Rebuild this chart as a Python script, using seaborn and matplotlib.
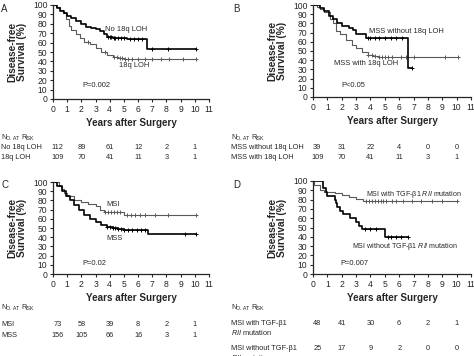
import numpy as np
import pandas as pd
import seaborn as sns
import matplotlib.pyplot as plt

sns.set_style("ticks")
plt.rcParams['font.family'] = ['Liberation Sans', 'DejaVu Sans']
plt.rcParams['mathtext.fontset'] = 'custom'
plt.rcParams['mathtext.it'] = 'Liberation Sans:italic'
plt.rcParams['mathtext.rm'] = 'Liberation Sans'

# ---- panel A: 18q LOH ----
a1_t = [0, 0.3, 0.5, 0.8, 1.0, 1.3, 1.6, 2.0, 2.3, 2.7, 3.0, 3.3, 3.6, 3.8, 4.2, 5.2, 6.6, 10.1]
a1_s = [100, 97, 94, 91, 88, 86, 83, 80, 77, 76, 74, 72, 69, 66, 65, 64, 53, 53]
a1_c = [3.9, 4.0, 4.1, 4.3, 4.4, 4.6, 4.8, 5.0, 5.4, 5.7, 6.0, 6.3, 7.0, 8.1, 10.1]
a2_t = [0, 0.2, 0.5, 0.7, 0.9, 1.1, 1.3, 1.6, 1.9, 2.2, 2.6, 3.0, 3.4, 3.8, 4.2, 4.6, 5.0, 10.1]
a2_s = [100, 98, 95, 91, 85, 78, 73, 69, 65, 61, 58, 54, 50, 47, 45, 44, 43, 43]
a2_c = [2.5, 3.7, 4.3, 4.5, 4.7, 4.9, 5.1, 5.3, 5.6, 6.0, 6.5, 7.0, 7.6, 8.2, 9.2, 10.1]

# ---- panel B: MSS with / without 18q LOH ----
b1_t = [0, 0.5, 0.8, 1.1, 1.4, 1.7, 2.0, 2.5, 2.8, 3.0, 3.7, 6.6, 6.9]
b1_s = [100, 97, 93, 88, 85, 80, 77, 75, 73, 69, 64, 32, 32]
b1_c = [3.8, 4.0, 4.3, 4.6, 5.0, 5.4, 5.8, 6.2, 6.9]
b2_t = [0, 0.3, 0.5, 0.8, 1.2, 1.4, 1.6, 1.9, 2.3, 2.7, 3.0, 3.4, 3.8, 4.2, 4.6, 10.1]
b2_s = [100, 98, 96, 92, 85, 80, 72, 68, 62, 57, 53, 49, 46, 45, 44, 44]
b2_c = [3.8, 4.1, 4.3, 4.6, 4.8, 5.0, 5.2, 5.5, 6.1, 6.5, 7.0, 9.2, 10.1]

# ---- panel C: MSI vs MSS ----
c1_t = [0, 0.4, 0.6, 0.8, 1.0, 1.5, 2.0, 2.5, 3.0, 3.3, 3.6, 5.0, 10.1]
c1_s = [100, 96, 92, 88, 85, 80, 78, 76, 74, 70, 67, 64, 64]
c1_c = [3.7, 3.9, 4.1, 4.3, 4.5, 4.7, 5.2, 5.5, 5.8, 6.1, 6.5, 7.2, 8.1, 10.1]
c2_t = [0, 0.3, 0.6, 0.9, 1.2, 1.5, 1.8, 2.2, 2.6, 3.0, 3.4, 3.8, 4.2, 4.6, 5.0, 6.7, 10.1]
c2_s = [100, 96, 90, 85, 80, 75, 70, 64, 60, 56, 53, 51, 50, 49, 48, 43, 43]
c2_c = [3.8, 4.0, 4.2, 4.4, 4.6, 4.8, 5.0, 5.3, 5.6, 5.9, 6.2, 6.5, 9.3, 10.1]

# ---- panel D: MSI with / without TGF-beta1 RII mutation ----
d1_t = [0, 0.1, 0.5, 0.8, 1.5, 2.0, 2.5, 3.0, 3.5, 10.1]
d1_s = [100, 96, 90, 88, 87, 85, 83, 81, 78, 78]
d1_c = [3.7, 3.9, 4.1, 4.3, 4.5, 4.7, 4.9, 5.1, 5.5, 5.8, 6.3, 6.9, 7.5, 8.3, 9.0, 10.0]
d2_t = [0, 0.7, 0.9, 1.0, 1.5, 1.6, 1.7, 1.9, 2.1, 2.6, 3.0, 3.2, 3.4, 5.0, 6.6]
d2_s = [100, 92, 88, 84, 80, 76, 72, 68, 64, 60, 56, 52, 48, 40, 40]
d2_c = [3.6, 4.0, 4.4, 5.2, 5.4, 5.8, 6.1, 6.6]

# at-risk tables
risk_years = [0, 2, 4, 6, 8, 10]
a_rows = ["No 18q LOH", "18q LOH"]
a_risk = [[112, 89, 61, 12, 2, 1], [109, 70, 41, 11, 3, 1]]
b_rows = ["MSS without 18q LOH", "MSS with 18q LOH"]
b_risk = [[39, 31, 22, 4, 0, 0], [109, 70, 41, 11, 3, 1]]
c_rows = ["MSI", "MSS"]
c_risk = [[73, 58, 39, 8, 2, 1], [156, 105, 66, 16, 3, 1]]
d_rows = ["MSI with TGF-\u03b21\n$\\it{RII}$ mutation", "MSI without TGF-\u03b21\n$\\it{RII}$ mutation"]
d_risk = [[48, 41, 30, 6, 2, 1], [25, 17, 9, 2, 0, 0]]

THICK = dict(color="black", lw=1.2)
THIN = dict(color="#5a5a5a", lw=0.8)
FS_NOTE = 5.4
FS_TAB = 5.3

W, H = 474, 356
fig = plt.figure(figsize=(W / 100, H / 100), dpi=100)


def px_axes(x0, y_top, x11, y_bot):
    return fig.add_axes([x0 / W, 1 - y_bot / H, (x11 - x0) / W, (y_bot - y_top) / H])


def km(ax, t, s, c, style):
    df = pd.DataFrame({"t": t, "s": s})
    sns.lineplot(data=df, x="t", y="s", drawstyle="steps-post", estimator=None,
                 sort=False, ax=ax, **style)
    idx = np.searchsorted(np.array(t), c, side="right") - 1
    cy = np.array(s)[idx]
    ax.plot(c, cy, linestyle="none", marker="+", ms=3, mew=0.7,
            color=style["color"], clip_on=False)


def setup(ax):
    ax.set_xlim(0, 11)
    ax.set_ylim(0, 100)
    ax.set_xticks(range(0, 12))
    ax.set_yticks(range(0, 101, 10))
    ax.tick_params(labelsize=6.2, length=2.5, width=0.8, pad=1.5)
    for sp in ["left", "bottom"]:
        ax.spines[sp].set_linewidth(0.9)
    sns.despine(ax=ax)
    ax.set_xlabel("Years after Surgery", fontsize=7.1, fontweight="bold", labelpad=3)
    ax.set_ylabel("Disease-free\nSurvival (%)", fontsize=7.3, fontweight="bold",
                  labelpad=4, linespacing=1.0)


def small_caps(x, y):
    t1 = fig.text(x / W, 1 - y / H, "N", fontsize=5.0, va="baseline")
    a = plt.annotate("O. AT ", xy=(1, 0), xycoords=t1, fontsize=3.8, va="bottom", annotation_clip=False)
    b = plt.annotate("R", xy=(1, 0), xycoords=a, fontsize=5.0, va="bottom", annotation_clip=False)
    plt.annotate("ISK", xy=(1, 0), xycoords=b, fontsize=3.8, va="bottom", annotation_clip=False)


def table(ax, x_label, y_head, row_y, rows, risk):
    small_caps(x_label, y_head)
    for ry, name, vals in zip(row_y, rows, risk):
        fig.text(x_label / W, 1 - ry / H, name, fontsize=FS_TAB, va="top", linespacing=1.15)
        for yr, v in zip(risk_years, vals):
            xx = yr + (0.3 if yr == 0 else 0)
            yy = -(ry - ax_y_bot[ax]) / ax_h_px[ax]
            ax.text(xx, yy, str(v), transform=ax.get_xaxis_transform(), fontsize=FS_TAB,
                    ha="center", va="top", clip_on=False)


ax_y_bot = {}
ax_h_px = {}

axA = px_axes(53, 5, 209, 99)
axB = px_axes(313, 5, 471, 97)
axC = px_axes(53, 182, 209, 274)
axD = px_axes(313, 181, 471, 274)
for ax, yt, yb in [(axA, 5, 99), (axB, 5, 97), (axC, 182, 274), (axD, 181, 274)]:
    ax_y_bot[ax] = yb
    ax_h_px[ax] = yb - yt
    setup(ax)

km(axA, a2_t, a2_s, a2_c, THIN)
km(axA, a1_t, a1_s, a1_c, THICK)
axA.text(3.7, 74, "No 18q LOH", fontsize=FS_NOTE, va="center")
axA.text(4.65, 36, "18q LOH", fontsize=FS_NOTE, va="center")
axA.text(2.1, 14, "P=0.002", fontsize=FS_NOTE, va="center")

km(axB, b2_t, b2_s, b2_c, THIN)
km(axB, b1_t, b1_s, b1_c, THICK)
axB.text(3.9, 71, "MSS without 18q LOH", fontsize=FS_NOTE, va="center")
axB.text(1.45, 36, "MSS with 18q LOH", fontsize=FS_NOTE, va="center")
axB.text(2.0, 12, "P<0.05", fontsize=FS_NOTE, va="center")

km(axC, c1_t, c1_s, c1_c, THIN)
km(axC, c2_t, c2_s, c2_c, THICK)
axC.text(3.75, 75, "MSI", fontsize=FS_NOTE, va="center")
axC.text(3.75, 39, "MSS", fontsize=FS_NOTE, va="center")
axC.text(2.1, 11, "P=0.02", fontsize=FS_NOTE, va="center")

km(axD, d1_t, d1_s, d1_c, THIN)
km(axD, d2_t, d2_s, d2_c, THICK)
axD.text(3.7, 85, "MSI with TGF-\u03b21 $\\it{RII}$ mutation", fontsize=5.1, va="center")
axD.text(2.7, 30, "MSI without TGF-\u03b21 $\\it{RII}$ mutation", fontsize=5.1, va="center")
axD.text(1.9, 11, "P=0.007", fontsize=FS_NOTE, va="center")

for lab, x, y in [("A", 1, 9), ("B", 233, 9), ("C", 1, 185), ("D", 233, 185)]:
    fig.text(x / W, 1 - y / H, lab, fontsize=7, va="center")

table(axA, 1, 139, [144, 154], a_rows, a_risk)
table(axB, 231, 139, [144, 154], b_rows, b_risk)
table(axC, 1, 309, [321, 332], c_rows, c_risk)
table(axD, 231, 309, [320, 345], d_rows, d_risk)

fig.savefig("out.png", dpi=100)
